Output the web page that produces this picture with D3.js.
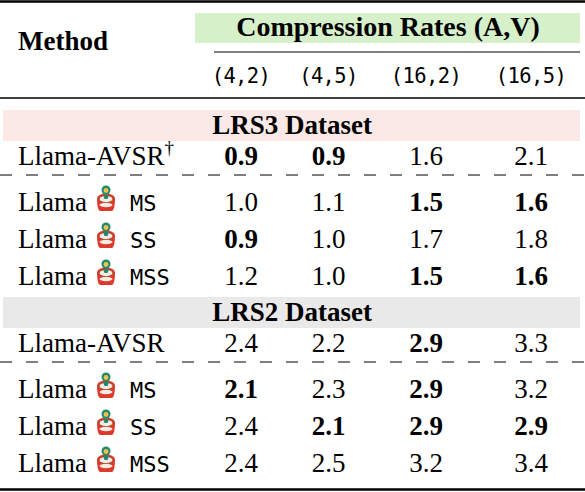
<!DOCTYPE html>
<html>
<head>
<meta charset="utf-8">
<script src="https://cdn.jsdelivr.net/npm/d3@7"></script>
<style>
  body { margin: 0; background: #fff; }
  svg { display: block; }
</style>
</head>
<body>
<div id="table"></div>
<script>
// table contents
var columns = ["(4,2)", "(4,5)", "(16,2)", "(16,5)"];
var datasets = ["LRS3 Dataset", "LRS2 Dataset"];
var baselineName = "Llama-AVSR";
var baselineMarks = ["\u2020", ""];
var variants = ["MS", "SS", "MSS"];
var lrs3Values = [
  [0.9, 0.9, 1.6, 2.1],
  [1.0, 1.1, 1.5, 1.6],
  [0.9, 1.0, 1.7, 1.8],
  [1.2, 1.0, 1.5, 1.6]
];
var lrs2Values = [
  [2.4, 2.2, 2.9, 3.3],
  [2.1, 2.3, 2.9, 3.2],
  [2.4, 2.1, 2.9, 2.9],
  [2.4, 2.5, 3.2, 3.4]
];
var groupValues = [lrs3Values, lrs2Values];

var width = 585, height = 492;
var serif = "'Liberation Serif', 'Times New Roman', serif";
var mono = "'DejaVu Sans Mono', monospace";
var bandColors = ["#fbe9e7", "#e9e9e9"];

var svg = d3.select("#table")
  .append("svg")
    .attr("width", width)
    .attr("height", height);

// column centres
var x = d3.scaleOrdinal()
  .domain(columns)
  .range([241, 328.5, 426, 531]);

// top of each dataset band
var groupTop = d3.scaleOrdinal()
  .domain(datasets)
  .range([110, 297]);

var fmt = d3.format(".1f");

// rules
function rule(y, x0, x1, w) {
  svg.append("line")
    .attr("x1", x0).attr("x2", x1)
    .attr("y1", y).attr("y2", y)
    .attr("stroke", "#000")
    .attr("stroke-width", w);
}
rule(1.5, 0, width, 2.6);
rule(98, 0, width, 1.4);
rule(489.5, 0, width, 2.6);
rule(52, 214, 580, 1);

// header
svg.append("rect")
  .attr("x", 195).attr("y", 13)
  .attr("width", 385).attr("height", 30)
  .attr("fill", "#d6f1ca");

svg.append("text")
  .attr("x", 18).attr("y", 50)
  .attr("font-family", serif)
  .attr("font-weight", "bold")
  .attr("font-size", 27)
  .text("Method");

svg.append("text")
  .attr("x", 388).attr("y", 36)
  .attr("text-anchor", "middle")
  .attr("font-family", serif)
  .attr("font-weight", "bold")
  .attr("font-size", 28)
  .text("Compression Rates (A,V)");

svg.selectAll(".colhead")
  .data(columns)
  .enter()
  .append("text")
    .attr("class", "colhead")
    .attr("x", function(d) { return x(d); })
    .attr("y", 83)
    .attr("text-anchor", "middle")
    .attr("font-family", mono)
    .attr("font-size", 20.5)
    .attr("letter-spacing", -0.6)
    .text(function(d) { return d; });

// little matryoshka doll icon, bottom at baseline
function doll(g) {
  g.append("path")
    .attr("d", "M0,-13 Q0,-1 3,0 L15,0 Q18,-1 18,-13 Z")
    .attr("fill", "#de3a2c");
  g.append("ellipse")
    .attr("cx", 9).attr("cy", -12.5)
    .attr("rx", 9).attr("ry", 5)
    .attr("fill", "#de3a2c");
  g.append("ellipse")
    .attr("cx", 9).attr("cy", -12)
    .attr("rx", 7).attr("ry", 3.6)
    .attr("fill", "#f6ebe3")
    .attr("stroke", "#9a4a2e")
    .attr("stroke-width", 1);
  g.append("ellipse")
    .attr("cx", 9).attr("cy", -6)
    .attr("rx", 6.5).attr("ry", 2.2)
    .attr("fill", "#f6ebe3");
  g.append("path")
    .attr("d", "M6,-16 L12,-16 L10.5,-12 L7.5,-12 Z")
    .attr("fill", "#1f8a6c");
  g.append("circle")
    .attr("cx", 9).attr("cy", -21)
    .attr("r", 4.5)
    .attr("fill", "#1f8a6c");
  g.append("circle")
    .attr("cx", 9).attr("cy", -20.5)
    .attr("r", 2.4)
    .attr("fill", "#f2c24c");
}

datasets.forEach(function(name, gi) {
  var top = groupTop(name);
  var values = groupValues[gi];

  // rows: 0 is the baseline model, 1..3 the variants
  var rowY = d3.scaleLinear()
    .domain([1, 3])
    .range([top + 101, top + 175]);
  function baselineOf(i) { return i === 0 ? top + 55 : rowY(i); }

  svg.append("rect")
    .attr("x", 3).attr("y", top)
    .attr("width", 577).attr("height", 31)
    .attr("fill", bandColors[gi]);

  svg.append("text")
    .attr("x", 292).attr("y", top + 24)
    .attr("text-anchor", "middle")
    .attr("font-family", serif)
    .attr("font-weight", "bold")
    .attr("font-size", 27)
    .text(name);

  svg.append("line")
    .attr("x1", 0).attr("x2", width)
    .attr("y1", top + 65).attr("y2", top + 65)
    .attr("stroke", "#000")
    .attr("stroke-width", 1)
    .attr("stroke-dasharray", "12,14");

  // method names
  var base = svg.append("text")
    .attr("x", 18).attr("y", baselineOf(0))
    .attr("font-family", serif)
    .attr("font-size", 27)
    .text(baselineName);
  if (baselineMarks[gi]) {
    base.append("tspan")
      .attr("dy", -11)
      .attr("font-size", 19)
      .text(baselineMarks[gi]);
  }

  variants.forEach(function(v, vi) {
    var y = baselineOf(vi + 1);
    svg.append("text")
      .attr("x", 18).attr("y", y)
      .attr("font-family", serif)
      .attr("font-size", 27)
      .text("Llama");
    doll(svg.append("g").attr("transform", "translate(97," + y + ")"));
    svg.append("text")
      .attr("x", 130).attr("y", y)
      .attr("font-family", mono)
      .attr("font-size", 22)
      .text(v);
  });

  // best (lowest) value per column goes bold
  var best = columns.map(function(c, ci) {
    return d3.min(values, function(r) { return r[ci]; });
  });

  var cells = [];
  values.forEach(function(row, ri) {
    row.forEach(function(v, ci) {
      cells.push({row: ri, col: columns[ci], value: v, bold: v === best[ci]});
    });
  });

  svg.selectAll(".cell" + gi)
    .data(cells)
    .enter()
    .append("text")
      .attr("class", "cell" + gi)
      .attr("x", function(d) { return x(d.col); })
      .attr("y", function(d) { return baselineOf(d.row); })
      .attr("text-anchor", "middle")
      .attr("font-family", serif)
      .attr("font-size", 27)
      .attr("font-weight", function(d) { return d.bold ? "bold" : "normal"; })
      .text(function(d) { return fmt(d.value); });
});
</script>
</body>
</html>
